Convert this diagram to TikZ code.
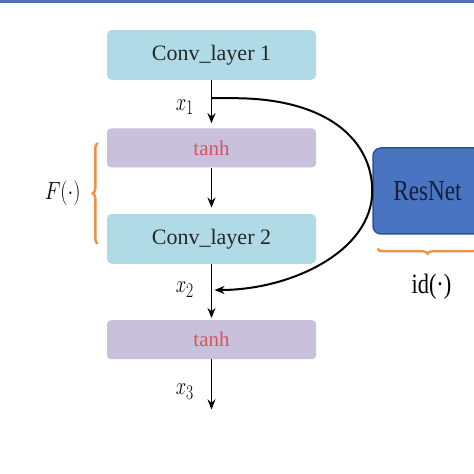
\documentclass[tikz,border=0pt]{standalone}
\usepackage{fontspec}
\setmainfont{Liberation Serif}
\newfontfamily\narrowserif[FakeStretch=0.8]{Liberation Serif}
\usepackage{graphicx}
\usetikzlibrary{arrows.meta,positioning,calc,decorations.pathreplacing}
\definecolor{convblue}{RGB}{176,219,230}
\definecolor{tanhlilac}{RGB}{201,192,219}
\definecolor{tanhred}{RGB}{214,84,94}
\definecolor{resblue}{RGB}{72,116,194}
\definecolor{resedge}{RGB}{47,82,143}
\definecolor{resink}{RGB}{22,30,58}
\definecolor{braceorange}{RGB}{238,146,74}
\definecolor{topbar}{RGB}{80,114,178}
\newcommand{\squeezed}[1]{\scalebox{0.75}[1]{#1}}
\tikzset{
  convbox/.style={rectangle,rounded corners=5pt,fill=convblue,
    minimum width=209pt,minimum height=50pt,inner sep=0pt,
    font=\fontsize{22}{24}\selectfont,text=black!85},
  tanhbox/.style={rectangle,rounded corners=4pt,fill=tanhlilac,
    minimum width=209pt,minimum height=39pt,inner sep=0pt,
    font=\fontsize{21}{22}\selectfont,text=tanhred},
  resbox/.style={rectangle,rounded corners=8pt,fill=resblue,draw=resedge,
    line width=1.5pt,minimum width=109pt,minimum height=86pt,inner sep=0pt,
    font=\narrowserif\fontsize{29}{30}\selectfont,text=resink},
  flow/.style={-{Stealth[length=10pt,width=8pt]},line width=1.6pt,black},
  skiparc/.style={-{Stealth[length=10pt,width=8pt]},line width=2pt,black},
  bracket/.style={decorate,decoration={brace,amplitude=5pt},
    line width=2.4pt,draw=braceorange},
  siglabel/.style={inner sep=0pt,font=\fontsize{30}{32}\selectfont},
  oplabel/.style={inner sep=0pt,font=\narrowserif\fontsize{28}{30}\selectfont},
}

\begin{document}
\begin{tikzpicture}[x=1pt,y=1pt]
\clip (0,0) rectangle (474,474);
\fill[white] (0,0) rectangle (474,474);
\fill[topbar] (0,471) rectangle (474,474);

% ── Layer stack ───────────────────────────────────────────────────────────
\node[convbox] (conv1) at (211.5,419) {Conv\_layer 1};
\node[tanhbox, below=48pt of conv1] (tanh1) {tanh};
\node[convbox, below=46pt of tanh1] (conv2) {Conv\_layer 2};
\node[tanhbox, below=56pt of conv2] (tanh2) {tanh};
\coordinate[below=50pt of tanh2] (out);

% ── ResNet block ──────────────────────────────────────────────────────────
\node[resbox] (resnet) at (427.5,283) {ResNet};

% ── Main arrows ───────────────────────────────────────────────────────────
\draw[flow, shorten >=5pt] (conv1) -- node[siglabel, pos=0.56, left=17pt] (x1) {\squeezed{$x_1$}} (tanh1);
\draw[flow, shorten >=6pt] (tanh1) -- (conv2);
\draw[flow, shorten >=2pt] (conv2) -- node[siglabel, pos=0.46, left=17pt] (x2) {\squeezed{$x_2$}} (tanh2);
\draw[flow] (tanh2) -- node[siglabel, pos=0.64, left=17pt] (x3) {\squeezed{$x_3$}} (out);

% ── Identity shortcut ─────────────────────────────────────────────────────
\coordinate (skipin)  at ([yshift=-18pt]conv1.south);
\coordinate (skipout) at ([yshift=-26pt]conv2.south);
\draw[skiparc, shorten >=3pt] (skipin) -- ++(22,0)
  .. controls +(95,0) and +(0,50) .. (resnet.west)
  .. controls +(0,-60) and +(80,0) .. (skipout);

% ── Braces ────────────────────────────────────────────────────────────────
\draw[bracket] ($(conv2.west)+(-9,-5)$) --
  node[oplabel, midway, left=16pt] (fop) {\scalebox{0.82}[1]{\fontsize{25}{27}\selectfont$F(\cdot)$}}
  ($(tanh1.west)+(-9,5)$);
\draw[bracket] ($(resnet.south)+(50,-14)$) --
  node[oplabel, midway, below=24pt, xshift=4pt] (idop) {id(·)}
  ($(resnet.south)+(-50,-14)$);

\end{tikzpicture}
\end{document}
